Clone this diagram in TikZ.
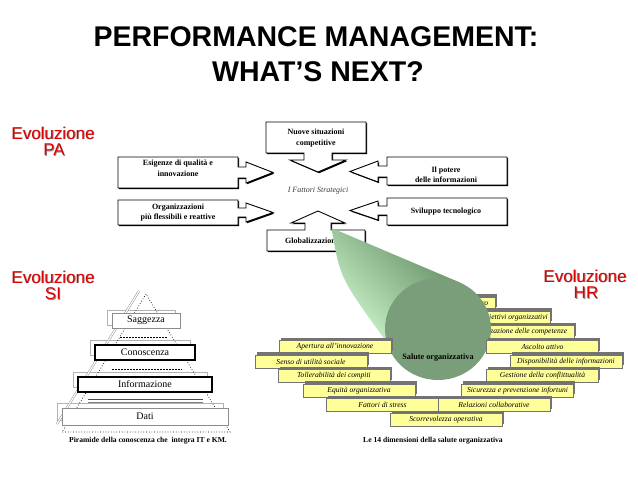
\documentclass[tikz,border=0pt]{standalone}
\usepackage{fontspec}
\setmainfont{Liberation Serif}
\newfontfamily\arialfont{Liberation Sans}
\usetikzlibrary{calc,shadows}
\definecolor{evored}{RGB}{225,0,0}
\definecolor{ylw}{RGB}{255,255,153}
\definecolor{salute}{RGB}{122,158,122}
\definecolor{conedark}{RGB}{96,138,96}
\definecolor{conelight}{RGB}{205,246,205}
\definecolor{fattcol}{RGB}{60,60,60}
\tikzset{
  callout/.style={draw=black, line width=0.9pt, fill=white,
    drop shadow={shadow xshift=1.2pt, shadow yshift=-1.2pt, fill=black, opacity=1}},
  ctext/.style={font=\fontsize{8}{10.5}\selectfont\bfseries, align=center, inner sep=0pt},
  fatt/.style={font=\fontsize{8}{9}\selectfont\itshape, text=fattcol, inner sep=0pt},
  ybox/.style={draw=black!55, line width=0.5pt, fill=ylw, minimum width=112pt,
    minimum height=13pt, inner sep=0pt, font=\fontsize{7.6}{8}\selectfont\itshape,
    drop shadow={shadow xshift=1.5pt, shadow yshift=2.6pt, fill=black!55, opacity=1}},
  ytext/.style={inner sep=0pt, font=\fontsize{7.6}{8}\selectfont\itshape},
  evo/.style={font=\arialfont\fontsize{17}{20}\selectfont, text=evored, inner sep=0pt},
  evoshadow/.style={font=\arialfont\fontsize{17}{20}\selectfont, text=black!45, inner sep=0pt},
  titlefont/.style={font=\arialfont\bfseries\fontsize{28.5}{32}\selectfont, inner sep=0pt, anchor=base},
  pshadowbox/.style={draw=black!30, fill=white, line width=0.6pt},
  plight/.style={draw=black!45, fill=white, line width=0.6pt, inner sep=0pt,
    font=\fontsize{10}{11}\selectfont},
  pdark/.style={draw=black, fill=white, line width=1.1pt, inner sep=0pt,
    font=\fontsize{10}{11}\selectfont},
  captionfont/.style={font=\fontsize{7.6}{8}\selectfont\bfseries, inner sep=0pt},
}
\begin{document}
\begin{tikzpicture}[x=1pt,y=-1pt]
\useasboundingbox (0,0) rectangle (638,478);
\fill[white] (0,0) rectangle (638,478);

% ---------- title ----------
\node[titlefont] (title1) at (316,46.7) {PERFORMANCE MANAGEMENT:};
\node[titlefont] (title2) at (318,81.7) {WHAT’S NEXT?};

% ---------- Evoluzione labels ----------
\node[evoshadow] (pa1s) at (53.8,133.8) {Evoluzione};
\node[evoshadow] (pa2s) at (54.8,150.8) {PA};
\node[evo] (pa1) at (53,133) {Evoluzione};
\node[evo] (pa2) at (54,150) {PA};
\node[evoshadow] (si1s) at (53.8,277.8) {Evoluzione};
\node[evoshadow] (si2s) at (53.8,294.8) {SI};
\node[evo] (si1) at (53,277) {Evoluzione};
\node[evo] (si2) at (53,294) {SI};
\node[evoshadow] (hr1s) at (585.8,276.8) {Evoluzione};
\node[evoshadow] (hr2s) at (586.8,293.8) {HR};
\node[evo] (hr1) at (585,276) {Evoluzione};
\node[evo] (hr2) at (586,293) {HR};

% ---------- strategic factors ----------
\path[callout] (266,122) -- (366,122) -- (366,153) -- (332,153) -- (332,160) -- (346,160)
  -- (318,172) -- (290,160) -- (304,160) -- (304,153) -- (266,153) -- cycle;
\path[callout] (118,157) -- (238,157) -- (238,167) -- (246,167) -- (246,162) -- (273,172.5)
  -- (246,183) -- (246,178) -- (238,178) -- (238,188) -- (118,188) -- cycle;
\path[callout] (118,200) -- (238,200) -- (238,208) -- (246,208) -- (246,203) -- (273,212.5)
  -- (246,222) -- (246,217) -- (238,217) -- (238,225) -- (118,225) -- cycle;
\path[callout] (507,157) -- (387,157) -- (387,166) -- (378,166) -- (378,161) -- (350,171.5)
  -- (378,182) -- (378,177) -- (387,177) -- (387,185) -- (507,185) -- cycle;
\path[callout] (507,198) -- (387,198) -- (387,206) -- (378,206) -- (378,201) -- (350,210.5)
  -- (378,220) -- (378,215) -- (387,215) -- (387,225) -- (507,225) -- cycle;
\path[callout] (267,251) -- (365,251) -- (365,230) -- (331,230) -- (331,223) -- (345,223)
  -- (318,211) -- (291,223) -- (305,223) -- (305,230) -- (267,230) -- cycle;

\node[ctext] (nuove) at (316,138) {Nuove situazioni\\competitive};
\node[ctext] (esig) at (178,168.5) {Esigenze di qualità e\\innovazione};
\node[ctext] (org) at (178,212.5) {Organizzazioni\\più flessibili e reattive};
\node[ctext] (pot) at (446,175) {Il potere\\delle informazioni};
\node[ctext] (svil) at (446,212) {Sviluppo tecnologico};
\node[ctext, anchor=west] (glob) at (285,240.5) {Globalizzazione};
\node[fatt] (fattori) at (318,191) {I Fattori Strategici};

% ---------- 14 dimensions: hidden ones ----------
\node[ybox] (d14) at (439,303.5) {Comfort dell’ambiente di lavoro};
\node[ybox] (d13) at (494,317.5) {};
\node[ytext, anchor=east] (d13t) at (548,317.5) {Chiarezza degli obiettivi organizzativi};
\node[ybox] (d12) at (518,332) {Valorizzazione delle competenze};

% ---------- cone and ellipse ----------
\shade[top color=conedark, bottom color=conelight, shading angle=-45]
  (331.5,228) -- (459.6,282.4) -- (438,329) -- (386.8,342.2)
  .. controls (340,278) .. (331.5,228) -- cycle;
\fill[salute] (438,329) ellipse [x radius=53pt, y radius=51pt];

% ---------- 14 dimensions: visible ones ----------
\node[ybox] (d1) at (335,347) {Apertura all’innovazione};
\node[ybox] (d11) at (542.5,347) {Ascolto attivo};
\node[ybox] (d2) at (311,361.5) {Senso di utilità sociale};
\node[ybox] (d10) at (566,361.5) {Disponibilità delle informazioni};
\node[ybox] (d3) at (334,376) {Tollerabilità dei compiti};
\node[ybox] (d9) at (542.5,376) {Gestione della conflittualità};
\node[ybox] (d4) at (359,390.5) {Equità organizzativa};
\node[ybox] (d8) at (517.5,390.5) {Sicurezza e prevenzione infortuni};
\node[ybox] (d5) at (382.5,405) {Fattori di stress};
\node[ybox] (d7) at (494,405) {Relazioni collaborative};
\node[ybox] (d6) at (446,420) {Scorrevolezza operativa};

\node[font=\fontsize{8.2}{9}\selectfont\bfseries, inner sep=0pt] (salute) at (438,358) {Salute organizzativa};
\node[captionfont] (cap2) at (433,441) {Le 14 dimensioni della salute organizzativa};

% ---------- pyramid ----------
\draw[pshadowbox] (107,310) rectangle (175,325);
\draw[pshadowbox] (90,340) rectangle (190,355);
\draw[pshadowbox] (73,372) rectangle (207,387);
\draw[pshadowbox] (57,403) rectangle (223,420);
\draw[black!45, line width=0.45pt, double=white, double distance=1.2pt] (139,291) -- (57,424);
\draw[dotted, line width=0.7pt] (146,294) -- (62,432) -- (230,432) -- cycle;
\draw[dash pattern=on 2pt off 1pt, line width=0.6pt] (120,337) -- (167,337);
\draw[dash pattern=on 2pt off 1pt, line width=0.6pt] (112,369) -- (182,369);
\draw[black!70, line width=0.7pt] (88,399.5) -- (203,399.5);
\draw[black!50, line width=0.7pt] (88,402.5) -- (203,402.5);

\node[plight, minimum width=68pt, minimum height=15pt] (sagg) at (146,320.5) {Saggezza};
\node[pdark, minimum width=100pt, minimum height=15pt] (cono) at (145,352.5) {Conoscenza};
\node[pdark, minimum width=134pt, minimum height=15pt] (info) at (145,384.5) {Informazione};
\node[plight, minimum width=166pt, minimum height=17pt] (dati) at (145,416.5) {Dati};
\node[captionfont] (cap1) at (148,441) {Piramide della conoscenza che\ \ integra IT e KM.};
\end{tikzpicture}
\end{document}
